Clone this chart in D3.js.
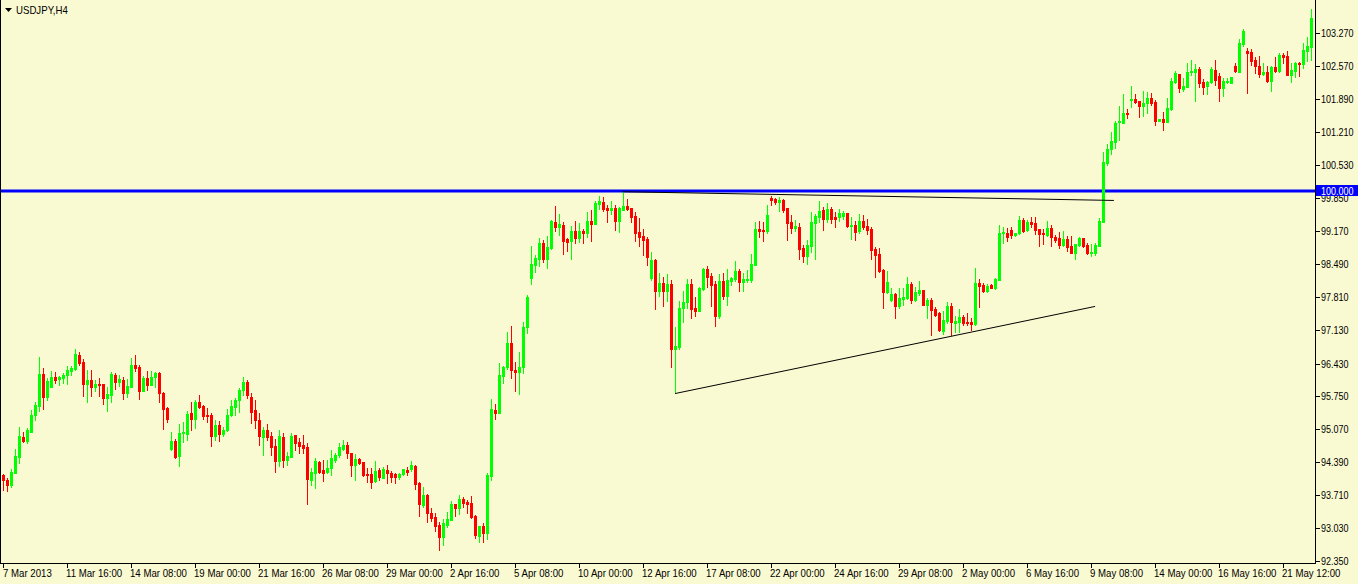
<!DOCTYPE html>
<html><head><meta charset="utf-8">
<script src="https://cdn.jsdelivr.net/npm/d3@7"></script>
<style>
html,body{margin:0;padding:0;background:#fafad2;}
svg{display:block;}
text{font-family:"Liberation Sans",Arial,sans-serif;}
</style></head><body>
<svg id="chart" width="1358" height="584"></svg>
<script>
const symbolLabel = "USDJPY,H4";

const opens = [
94.13,94.02,93.92,94.17,94.50,94.91,94.83,95.01,95.37,95.55,
96.21,95.74,95.94,96.15,96.11,96.13,96.19,96.28,96.32,96.60,
96.46,96.01,96.09,95.94,96.01,96.01,95.72,95.78,96.19,96.05,
96.09,95.82,95.94,96.40,96.36,95.86,96.13,95.99,96.15,96.23,
95.82,95.51,94.66,94.83,94.52,94.99,94.97,95.41,95.28,95.63,
95.55,95.37,95.37,94.93,95.16,94.97,95.06,95.37,95.53,95.68,
95.88,96.05,95.74,95.47,95.26,94.91,95.06,94.93,94.73,94.42,
94.91,94.44,94.50,94.95,94.81,94.75,94.70,94.02,94.17,94.40,
94.23,94.19,94.27,94.44,94.54,94.66,94.75,94.58,94.33,94.46,
94.40,94.15,94.15,94.00,94.23,94.06,94.23,94.17,94.15,94.09,
94.15,94.23,94.25,94.31,93.96,93.51,93.71,93.34,93.26,93.09,
92.85,93.09,93.20,93.53,93.44,93.63,93.57,93.55,93.28,92.87,
93.07,92.93,94.11,95.47,95.41,96.17,96.36,96.85,96.30,96.25,
96.36,97.18,98.20,98.47,98.59,98.92,98.59,98.82,99.35,99.25,
99.29,99.00,98.96,99.17,99.02,99.17,99.13,99.37,99.31,99.73,
99.77,99.64,99.60,99.64,99.37,99.60,99.68,99.64,99.48,99.15,
99.06,99.00,98.20,98.57,97.93,98.09,97.93,98.07,96.73,96.77,
97.58,97.70,98.07,97.58,97.51,97.97,98.38,98.24,98.07,97.41,
98.13,97.82,98.13,98.18,98.34,98.11,98.16,98.16,98.47,99.21,
99.19,99.17,99.85,99.83,99.77,99.81,99.64,99.35,99.23,99.25,
98.82,98.65,98.86,99.33,99.46,99.60,99.42,99.62,99.46,99.46,
99.48,99.54,99.27,99.29,99.17,99.37,99.27,99.21,98.80,98.69,
98.36,97.91,97.74,97.87,97.62,97.76,97.78,98.07,97.74,97.89,
97.95,97.64,97.74,97.56,97.47,97.10,97.31,97.62,97.27,97.29,
97.39,97.29,97.29,97.25,98.09,98.05,97.93,98.05,97.99,98.16,
99.13,99.13,99.19,99.08,99.13,99.39,99.19,99.35,99.33,99.21,
99.13,99.08,99.23,99.04,99.02,98.88,99.00,98.86,98.71,98.88,
99.02,98.88,98.71,98.71,98.86,99.35,100.57,100.86,101.01,101.42,
101.40,101.61,101.87,101.89,101.85,101.75,101.81,101.91,101.83,101.44,
101.48,101.42,101.69,102.25,102.41,102.10,102.14,102.45,102.45,102.51,
102.25,102.16,102.25,102.49,102.37,102.12,102.25,102.23,102.58,102.45,
103.03,102.89,102.87,102.70,102.58,102.41,102.45,102.27,102.56,102.47,
102.80,102.78,102.39,102.47,102.64,102.62,102.89,102.97];

const highs = [
94.15,94.06,94.25,94.66,95.12,95.01,95.10,95.47,95.63,96.56,
96.34,96.13,96.28,96.25,96.17,96.23,96.38,96.38,96.73,96.67,
96.52,96.30,96.30,96.09,96.13,96.01,95.94,96.25,96.23,96.19,
96.15,96.11,96.54,96.60,96.40,96.17,96.28,96.28,96.25,96.25,
95.84,95.53,95.01,94.87,95.18,95.22,95.45,95.63,95.68,95.78,
95.57,95.51,95.41,95.26,95.24,95.12,95.49,95.68,95.72,95.92,
96.15,96.09,95.82,95.68,95.41,95.12,95.18,95.01,94.87,95.06,
94.99,94.60,94.99,94.95,94.89,94.95,94.79,94.27,94.48,94.42,
94.44,94.44,94.64,94.58,94.79,94.85,94.81,94.58,94.56,94.48,
94.40,94.27,94.27,94.42,94.27,94.29,94.33,94.21,94.17,94.17,
94.25,94.29,94.42,94.33,93.98,93.88,93.73,93.44,93.34,93.16,
93.22,93.36,93.59,93.53,93.71,93.67,93.61,93.69,93.30,93.07,
93.13,94.17,95.70,95.59,96.44,96.38,97.08,97.20,96.46,96.67,
97.29,97.85,98.86,98.67,99.02,98.98,99.06,99.39,99.68,99.52,
99.35,99.02,99.27,99.37,99.33,99.21,99.56,99.60,99.79,99.89,
99.87,99.70,99.79,99.70,99.66,99.97,99.83,99.64,99.56,99.44,
99.21,99.04,98.73,98.59,98.30,98.22,98.28,98.16,97.18,97.72,
97.93,98.18,98.18,97.80,98.01,98.40,98.44,98.30,98.13,98.28,
98.30,98.38,98.22,98.55,98.38,98.30,98.36,98.69,99.35,99.37,
99.35,99.70,99.89,99.85,99.87,99.83,99.64,99.50,99.39,99.33,
98.88,98.98,99.56,99.52,99.79,99.66,99.75,99.66,99.56,99.62,
99.58,99.54,99.46,99.37,99.52,99.50,99.42,99.25,98.84,98.82,
98.38,98.34,97.99,97.89,97.99,97.99,98.22,98.11,98.01,98.13,
97.95,97.78,97.78,97.60,97.49,97.51,97.70,97.68,97.41,97.56,
97.43,97.47,97.37,98.40,98.18,98.09,98.07,98.07,98.20,99.29,
99.25,99.23,99.25,99.13,99.48,99.44,99.39,99.46,99.46,99.21,
99.21,99.37,99.29,99.08,99.15,99.17,99.06,99.06,98.90,99.04,
99.02,98.92,98.90,98.92,99.44,100.80,100.96,101.21,101.44,101.75,
102.00,101.69,102.16,102.00,101.85,102.06,102.04,102.02,101.87,101.48,
101.63,101.91,102.33,102.47,102.41,102.33,102.64,102.70,102.62,102.56,
102.31,102.27,102.56,102.70,102.43,102.33,102.33,102.35,102.64,103.13,
103.34,102.95,102.93,102.76,102.78,102.64,102.58,102.58,102.76,102.85,
102.85,102.89,102.64,102.66,102.66,103.05,103.18,103.75];

const lows = [
93.82,93.80,93.88,94.17,94.37,94.81,94.79,95.01,95.26,95.45,
95.49,95.68,95.94,96.03,95.99,96.03,96.01,96.19,96.30,96.40,
95.76,95.63,95.76,95.86,95.76,95.59,95.45,95.63,95.90,95.97,
95.70,95.74,95.94,96.28,95.70,95.86,95.88,95.99,95.94,95.63,
95.08,95.22,94.64,94.48,94.31,94.81,94.85,95.06,95.10,95.51,
95.28,95.22,94.73,94.85,94.83,94.93,95.03,95.34,95.37,95.43,
95.78,95.72,95.20,95.10,94.75,94.54,94.85,94.54,94.19,94.31,
94.29,94.33,94.50,94.64,94.58,94.58,93.53,93.92,93.86,94.17,
94.00,94.17,94.13,94.40,94.50,94.64,94.48,94.11,94.02,94.35,
94.11,93.98,93.86,93.98,94.02,94.06,93.96,93.98,93.96,94.04,
94.13,94.13,94.21,93.84,93.28,93.47,93.16,93.18,92.97,92.58,
92.68,93.05,93.20,93.28,93.32,93.47,93.34,93.24,92.82,92.74,
92.74,92.80,94.02,95.28,95.41,96.03,96.32,96.13,95.86,95.80,
96.23,97.06,98.07,98.32,98.44,98.53,98.40,98.80,99.17,99.08,
98.69,98.75,98.59,98.92,98.94,98.92,99.04,98.96,99.31,99.62,
99.58,99.35,99.52,99.19,99.15,99.60,99.60,99.35,98.96,98.86,
98.67,98.47,98.16,97.56,97.82,97.62,97.72,96.36,95.82,96.73,
97.29,97.58,97.37,97.41,97.51,97.95,98.01,97.62,97.20,97.37,
97.76,97.64,98.05,98.13,97.93,97.93,98.11,98.11,98.47,99.04,
98.96,99.13,99.70,99.73,99.58,99.56,98.98,99.13,99.17,98.59,
98.53,98.49,98.73,98.59,99.35,99.19,99.35,99.33,99.25,99.37,
99.42,99.25,99.00,98.98,99.13,99.21,99.11,98.59,98.22,98.32,
97.58,97.89,97.72,97.37,97.58,97.64,97.76,97.68,97.72,97.85,
97.64,97.37,97.02,97.41,97.10,97.04,97.27,97.02,97.08,97.08,
97.23,97.23,97.12,97.23,97.60,97.91,97.91,97.99,97.97,98.16,
98.92,98.96,99.02,99.06,99.11,99.15,99.17,99.25,99.11,98.86,
98.90,99.06,98.86,98.94,98.82,98.86,98.75,98.71,98.59,98.86,
98.84,98.69,98.65,98.67,98.86,99.35,100.53,100.76,100.88,101.05,
101.40,101.50,101.73,101.81,101.52,101.54,101.61,101.77,101.36,101.44,
101.25,101.42,101.67,102.23,102.04,102.06,102.14,102.39,101.85,102.14,
102.00,102.00,102.23,102.18,101.85,101.96,102.23,102.23,102.45,102.45,
102.99,102.02,102.60,102.43,102.35,102.39,102.25,102.06,102.45,102.45,
102.64,102.39,102.25,102.35,102.37,102.54,102.68,102.70];

const closes = [
94.02,93.92,94.19,94.52,94.93,94.83,95.06,95.37,95.57,96.21,
95.74,96.07,96.15,96.09,96.15,96.19,96.30,96.34,96.63,96.44,
96.01,96.09,95.94,96.01,95.99,95.72,95.80,96.21,96.05,96.11,
95.82,95.97,96.40,96.34,95.86,96.13,95.99,96.15,96.23,95.82,
95.49,95.28,94.83,94.50,94.99,95.01,95.39,95.28,95.63,95.53,
95.34,95.34,94.93,95.16,94.97,95.06,95.37,95.55,95.68,95.88,
96.05,95.78,95.43,95.26,94.93,95.06,94.91,94.70,94.42,94.93,
94.44,94.52,94.93,94.79,94.73,94.68,94.04,94.19,94.42,94.19,
94.17,94.27,94.48,94.54,94.70,94.75,94.58,94.33,94.46,94.37,
94.13,94.13,93.98,94.21,94.09,94.25,94.17,94.09,94.09,94.15,
94.25,94.19,94.33,93.94,93.53,93.71,93.34,93.24,93.07,92.85,
93.13,93.22,93.53,93.44,93.63,93.55,93.53,93.26,92.89,93.07,
92.93,94.13,95.49,95.41,96.19,96.36,96.85,96.30,96.25,96.36,
97.18,97.80,98.49,98.61,98.92,98.59,98.84,99.37,99.25,99.31,
98.96,98.94,99.17,99.02,99.17,99.13,99.37,99.31,99.75,99.79,
99.62,99.60,99.64,99.37,99.64,99.68,99.62,99.46,99.13,99.04,
98.98,98.63,98.57,97.93,98.09,97.93,98.07,96.73,96.79,97.58,
97.70,98.07,97.56,97.51,97.99,98.38,98.22,98.05,97.41,98.13,
97.82,98.16,98.20,98.34,98.11,98.18,98.18,98.49,99.21,99.17,
99.17,99.50,99.81,99.77,99.81,99.60,99.33,99.23,99.27,98.80,
98.65,98.88,99.35,99.48,99.58,99.42,99.62,99.42,99.42,99.54,
99.54,99.27,99.29,99.15,99.37,99.25,99.19,98.77,98.67,98.34,
97.91,98.11,97.87,97.62,97.78,97.80,98.07,97.74,97.91,97.95,
97.64,97.74,97.54,97.43,97.12,97.33,97.62,97.29,97.31,97.39,
97.27,97.27,97.25,98.09,98.03,97.93,98.03,97.99,98.18,99.13,
99.15,99.04,99.08,99.13,99.39,99.17,99.35,99.31,99.19,99.11,
99.11,99.23,99.04,98.98,98.88,99.00,98.84,98.71,98.90,99.02,
98.86,98.71,98.73,98.88,99.37,100.59,100.86,101.03,101.40,101.44,
101.61,101.59,101.89,101.83,101.75,101.81,101.91,101.81,101.44,101.48,
101.42,101.71,102.27,102.43,102.12,102.16,102.45,102.47,102.51,102.23,
102.14,102.25,102.51,102.29,102.12,102.27,102.27,102.35,102.47,103.05,
103.30,102.85,102.68,102.58,102.41,102.45,102.27,102.56,102.47,102.80,
102.76,102.39,102.49,102.64,102.62,102.91,102.99,103.57];

const timeLabels = ["7 Mar 2013","11 Mar 16:00","14 Mar 08:00","19 Mar 00:00","21 Mar 16:00",
"26 Mar 08:00","29 Mar 00:00","2 Apr 16:00","5 Apr 08:00","10 Apr 00:00","12 Apr 16:00",
"17 Apr 08:00","22 Apr 00:00","24 Apr 16:00","29 Apr 08:00","2 May 00:00","6 May 16:00",
"9 May 08:00","14 May 00:00","16 May 16:00","21 May 12:00"];
const barsPerTimeLabel = 16;

const priceTicks = [103.270,102.570,101.890,101.210,100.530,99.850,99.170,98.490,97.810,
97.130,96.430,95.750,95.070,94.390,93.710,93.030,92.350];

const levelPrice = 100.000;
// trend lines: [bar index, price] endpoints
const resistanceLine = [[154.75, 99.98],[277.6, 99.80]];
const supportLine = [[167.9, 95.81],[272.9, 97.61]];

const W = 1358, H = 584;
const plotRight = 1315, plotBottom = 563;
const svg = d3.select("#chart");
const bg = "#fafad2";
svg.append("rect").attr("x",0).attr("y",0).attr("width",W).attr("height",H).attr("fill",bg);

const n = opens.length;
const x = d3.scaleBand().domain(d3.range(n)).range([1.5, 1.5 + 4*n]).padding(0);
const xc = i => x(i) + x.bandwidth()/2;
const xLin = d3.scaleLinear().domain([0, n-1]).range([xc(0), xc(n-1)]);
const y = d3.scaleLinear().domain([92.35, 103.27]).range([561, 32.5]);

function label(parent, tx, ty, str, size, sx, color) {
  return parent.append("text")
    .attr("transform", `translate(${tx},${ty}) scale(${sx},1)`)
    .attr("font-size", size + "px").attr("fill", color || "#000").text(str);
}

const g = svg.append("g");
svg.append("clipPath").attr("id","plot").append("rect").attr("x",0).attr("y",0).attr("width",plotRight).attr("height",plotBottom);
const plot = g.append("g").attr("clip-path","url(#plot)");

// level line
plot.append("rect").attr("x",0).attr("width",plotRight)
  .attr("y",Math.round(y(levelPrice))-1.5).attr("height",3).attr("fill","#0000ff");

// candles
const data = d3.range(n).map(i => ({i, o:opens[i], h:highs[i], l:lows[i], c:closes[i]}));
const bull = "#00ff00", bear = "#ff0000";
const cg = plot.append("g");
cg.selectAll("rect.wick").data(data).join("rect").attr("class","wick")
  .attr("x", d => Math.round(xc(d.i) - 0.5))
  .attr("width", 1)
  .attr("y", d => Math.round(y(d.h)))
  .attr("height", d => Math.max(1, Math.round(y(d.l)) - Math.round(y(d.h)) + 1))
  .attr("fill", d => d.c >= d.o ? bull : bear);
cg.selectAll("rect.body").data(data).join("rect").attr("class","body")
  .attr("x", d => Math.round(xc(d.i) - 1.5))
  .attr("width", 3)
  .attr("y", d => Math.round(y(Math.max(d.o,d.c))))
  .attr("height", d => Math.max(1, Math.round(y(Math.min(d.o,d.c))) - Math.round(y(Math.max(d.o,d.c))) + 1))
  .attr("fill", d => d.c >= d.o ? bull : bear);

// trend lines
[resistanceLine, supportLine].forEach(ln => {
  plot.append("line")
    .attr("x1", xLin(ln[0][0])).attr("y1", y(ln[0][1]))
    .attr("x2", xLin(ln[1][0])).attr("y2", y(ln[1][1]))
    .attr("stroke","#000").attr("stroke-width",1);
});

// frame / axes
svg.append("rect").attr("x",plotRight).attr("y",0).attr("width",1).attr("height",plotBottom+1).attr("fill","#000");
svg.append("rect").attr("x",0).attr("y",plotBottom).attr("width",plotRight+1).attr("height",1).attr("fill","#000");
svg.append("rect").attr("x",0).attr("y",0).attr("width",1).attr("height",plotBottom).attr("fill","#000");

// price axis
const pa = svg.append("g");
priceTicks.forEach(p => {
  const yy = Math.round(y(p));
  pa.append("rect").attr("x",plotRight+1).attr("y",yy).attr("width",4).attr("height",1).attr("fill","#000");
  label(pa, plotRight+6, yy+4, p.toFixed(3), 10.5, 0.86);
});
// level price tag
const ly = Math.round(y(levelPrice));
pa.append("rect").attr("x",plotRight+1).attr("y",ly-6).attr("width",W-plotRight-1).attr("height",11).attr("fill","#0000ff");
label(pa, plotRight+6, ly+3.5, levelPrice.toFixed(3), 10.5, 0.86, "#fff");

// time axis
const ta = svg.append("g");
timeLabels.forEach((t,k) => {
  const xx = Math.round(xc(k*barsPerTimeLabel) - 0.5);
  ta.append("rect").attr("x",xx).attr("y",plotBottom+1).attr("width",1).attr("height",4).attr("fill","#000");
  label(ta, xx + (k===0? 0 : -1), 577, t, 10.5, 0.92);
});

// symbol label
svg.append("path").attr("d","M5,8 L12,8 L8.5,12 Z").attr("fill","#000");
label(svg, 16, 14, symbolLabel, 10.5, 0.92);
</script>
</body></html>
